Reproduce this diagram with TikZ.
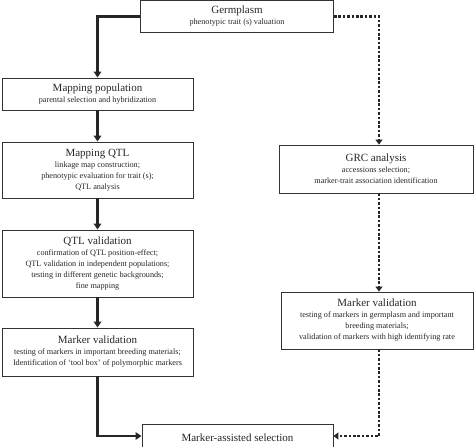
\documentclass[tikz,border=0pt]{standalone}
\usepackage{fontspec}
\setmainfont{Liberation Serif}
\usetikzlibrary{arrows.meta}
\newcommand{\ttl}[1]{{\fontsize{11}{12.5}\selectfont #1}}
\begin{document}
\begin{tikzpicture}[x=1pt,y=-1pt,
  box/.style={draw=black!80, line width=0.9pt, align=center, inner sep=1pt,
    text=black!85, font=\fontsize{8.2}{11}\selectfont},
  solidarrow/.style={draw=black!85, line width=2.2pt,
    -{Triangle[length=6pt,width=7.5pt]}},
  dotarrow/.style={draw=black!85, line width=2.6pt, line cap=butt,
    dash pattern=on 2.6pt off 1.8pt,
    -{Triangle[length=5pt,width=7pt]}}]
\useasboundingbox (0,0) rectangle (474,447);

\node[box, minimum width=193pt, minimum height=32pt] (germ) at (237,16.5)
  {\ttl{Germplasm}\\phenotypic trait (s) valuation};
\node[box, minimum width=191pt, minimum height=32pt] (mappop) at (97.5,94)
  {\ttl{Mapping population}\\parental selection and hybridization};
\node[box, minimum width=191pt, minimum height=56pt] (mapqtl) at (97.5,170)
  {\ttl{Mapping QTL}\\linkage map construction;\\phenotypic evaluation for trait (s);\\QTL analysis};
\node[box, minimum width=191pt, minimum height=67pt] (qtlval) at (97.5,263.5)
  {\ttl{QTL validation}\\confirmation of QTL position-effect;\\QTL validation in independent populations;\\testing in different genetic backgrounds;\\fine mapping};
\node[box, minimum width=191pt, minimum height=48pt] (mvl) at (97.5,352)
  {\ttl{Marker validation}\\testing of markers in important breeding materials;\\Identification of `tool box' of polymorphic markers};
\node[box, minimum width=191pt, minimum height=28pt] (mas) at (237.5,438)
  {\ttl{Marker-assisted selection}};
\node[box, minimum width=194pt, minimum height=48pt] (grc) at (376,169)
  {\ttl{GRC analysis}\\accessions selection;\\marker-trait association identification};
\node[box, minimum width=192pt, minimum height=57pt] (mvr) at (377,320.5)
  {\ttl{Marker validation}\\testing of markers in germplasm and important\\breeding materials;\\validation of markers with high identifying rate};

\coordinate (rx) at (379,0);
\coordinate (masy) at (0,436);

\draw[solidarrow] (germ.west) -| (mappop.north);
\draw[solidarrow] (mappop.south) -- (mapqtl.north);
\draw[solidarrow] (mapqtl.south) -- (qtlval.north);
\draw[solidarrow] (qtlval.south) -- (mvl.north);
\draw[solidarrow] (mvl.south) |- (mas.west |- masy);

\draw[dotarrow] (germ.east) -| (grc.north -| rx);
\draw[dotarrow] (grc.south -| rx) -- (mvr.north -| rx);
\draw[dotarrow] (mvr.south -| rx) |- (mas.east |- masy);
\end{tikzpicture}
\end{document}
